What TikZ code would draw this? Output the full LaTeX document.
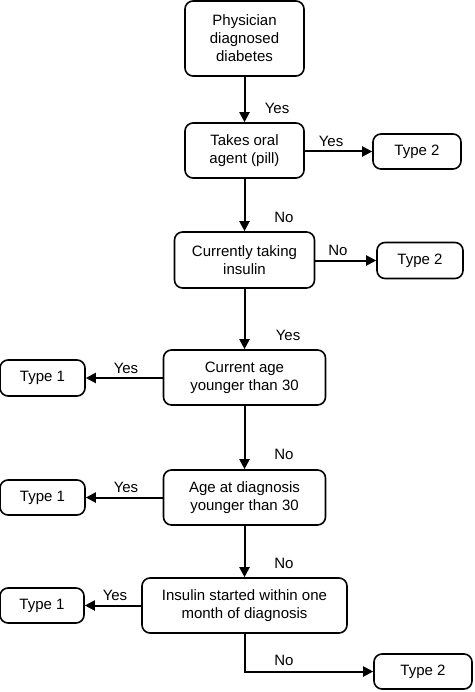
\documentclass[tikz,border=0pt]{standalone}
\usepackage{fontspec}
\setmainfont{Liberation Sans}
\usetikzlibrary{arrows.meta}
\begin{document}
\begin{tikzpicture}[x=1pt,y=-1pt,
  box/.style={draw=black,line width=1.6pt,rounded corners=8pt,align=center,
    inner sep=0pt,font=\fontsize{15}{18}\selectfont},
  lbl/.style={font=\fontsize{15}{18}\selectfont,inner sep=0pt},
  arr/.style={line width=2pt,-{Triangle[length=10pt,width=10pt]}}]
\useasboundingbox (0,0) rectangle (474,692);
\node[box,minimum width=119pt,minimum height=75pt] (b1) at (244.5,38.5) {Physician\\diagnosed\\diabetes};
\node[box,minimum width=119pt,minimum height=55pt] (b2) at (244.5,150.5) {Takes oral\\agent (pill)};
\node[box,minimum width=88pt,minimum height=35pt] (t2a) at (417,151.5) {Type 2};
\node[box,minimum width=140pt,minimum height=56pt] (b3) at (244.5,260) {Currently taking\\insulin};
\node[box,minimum width=86pt,minimum height=36pt] (t2b) at (420,260.5) {Type 2};
\node[box,minimum width=162pt,minimum height=55pt] (b4) at (244.5,377.5) {Current age\\younger than 30};
\node[box,minimum width=85pt,minimum height=36pt] (t1a) at (42.5,378) {Type 1};
\node[box,minimum width=162pt,minimum height=55pt] (b5) at (244.5,497.5) {Age at diagnosis\\younger than 30};
\node[box,minimum width=85pt,minimum height=35pt] (t1b) at (42.5,497.5) {Type 1};
\node[box,minimum width=205pt,minimum height=55pt] (b6) at (244.5,605.5) {Insulin started within one\\month of diagnosis};
\node[box,minimum width=84pt,minimum height=35pt] (t1c) at (42,605.5) {Type 1};
\node[box,minimum width=98pt,minimum height=35pt] (t2c) at (423,671.5) {Type 2};
\draw[arr] (b1.south) -- (b2.north);
\draw[arr] (b2.east |- t2a.west) -- (t2a.west);
\draw[arr] (b2.south) -- (b3.north);
\draw[arr] (b3.east |- t2b.west) -- (t2b.west);
\draw[arr] (b3.south) -- (b4.north);
\draw[arr] (b4.west |- t1a.east) -- (t1a.east);
\draw[arr] (b4.south) -- (b5.north);
\draw[arr] (b5.west |- t1b.east) -- (t1b.east);
\draw[arr] (b5.south) -- (b6.north);
\draw[arr] (b6.west |- t1c.east) -- (t1c.east);
\draw[arr] (b6.south) |- (t2c.west);
\node[lbl] (l1) at (277,108) {Yes};
\node[lbl] (l2) at (331,141) {Yes};
\node[lbl] (l3) at (284,217) {No};
\node[lbl] (l4) at (338,250) {No};
\node[lbl] (l5) at (288,335) {Yes};
\node[lbl] (l6) at (126,368) {Yes};
\node[lbl] (l7) at (284,454) {No};
\node[lbl] (l8) at (126,487) {Yes};
\node[lbl] (l9) at (284,563) {No};
\node[lbl] (l10) at (115,595) {Yes};
\node[lbl] (l11) at (284,660) {No};
\end{tikzpicture}
\end{document}
